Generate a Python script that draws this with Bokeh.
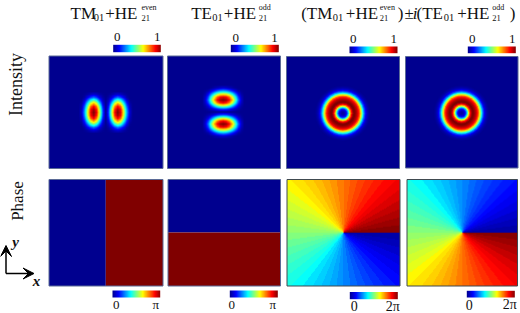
import numpy as np
from bokeh.plotting import figure
from bokeh.models import LinearColorMapper, Arrow, VeeHead
from bokeh.core.properties import value
from bokeh.embed import file_html
from bokeh.resources import INLINE

# --- values ---
row_labels = ["Intensity", "Phase"]
intensity_ticks = ["0", "1"]
phase_ticks_pi = ["0", "π"]
phase_ticks_2pi = ["0", "2π"]

# one quadrant of a two-lobe mode (3 px cells, from the beam centre outwards)
lobe_quadrant = [
    [0, .20, .55, .88, 1.0, .90, .60, .30, .08, 0],
    [0, .19, .52, .84, .97, .87, .58, .28, .07, 0],
    [0, .15, .45, .74, .88, .77, .50, .23, .05, 0],
    [0, .10, .33, .58, .70, .60, .38, .16, .03, 0],
    [0, .06, .20, .38, .48, .40, .24, .09, .01, 0],
    [0, .03, .09, .18, .24, .19, .11, .03, 0, 0],
    [0, .01, .03, .06, .08, .06, .03, .01, 0, 0],
    [0, 0, 0, 0, 0, 0, 0, 0, 0, 0],
]
# ring intensity for radius 0, 1, 2, ... px
ring_profile = [.02, .03, .05, .09, .15, .27, .42, .60, .76, .88, .96, 1.0, 1.0, .98,
                .95, .91, .86, .78, .66, .53, .40, .28, .19, .12, .07, .04, .02, .01, 0]
# step phases of the two-valued panels (fraction of the colour bar)
step_phase_left_top = 0.0
step_phase_right_bottom = 1.0
# phase of the vortex sectors, counter-clockwise from +x (fraction of the colour bar)
vortex_levels = [.99, .97, .95, .93, .91, .89, .87, .85, .83, .81, .79, .77, .75, .73, .71, .69,
                 .67, .65, .63, .60, .58, .56, .54, .52, .50, .48, .46, .44, .42, .40, .38, .35,
                 .33, .31, .29, .27, .25, .23, .21, .19, .17, .15, .13, .11, .09, .07, .05, .03]

# --- colours ---
stops = [0, .125, .375, .625, .875, 1]
stop_rgb = [(0, 0, 143), (0, 0, 255), (0, 255, 255), (255, 255, 0), (255, 0, 0), (128, 0, 0)]
t = np.linspace(0, 1, 256)
jet = ["#%02x%02x%02x" % tuple(int(round(np.interp(v, stops, [c[i] for c in stop_rgb]))) for i in range(3)) for v in t]
mapper = LinearColorMapper(palette=jet, low=0, high=1)
NAVY = jet[0]

W, H = 520, 313
p = figure(width=W, height=H, x_range=(0, W), y_range=(0, H), toolbar_location=None,
           output_backend="svg", min_border=0)
p.axis.visible = False
p.grid.visible = False
p.outline_line_color = None
p.background_fill_color = "white"
p.border_fill_color = "white"


def Y(py):
    return H - py


def box(x0, x1, y0, y1, color, line=None, width=1):
    p.quad(left=[x0], right=[x1], top=[Y(y0)], bottom=[Y(y1)], fill_color=color,
           line_color=line, line_width=width)


def img(arr, x0, x1, y0, y1):
    p.image(image=[arr], x=x0, y=Y(y1), dw=x1 - x0, dh=y1 - y0, color_mapper=mapper)


def labels(xs, ys, texts, size, style="normal", align="left"):
    # ys are baselines; the text is anchored on its middle
    p.text(x=xs, y=[Y(v - 0.31 * size) for v in ys], text=texts, text_font=value("Liberation Serif"),
           text_font_size=value(f"{size}px"), text_font_style=value(style), text_align=align,
           text_baseline="middle", text_color="#111111")


def resample(arr, factor):
    """Raster display of a coarse grid at a finer pixel size."""
    ny, nx = arr.shape
    fx = np.linspace(0, nx - 1, (nx - 1) * factor + 1)
    fy = np.linspace(0, ny - 1, (ny - 1) * factor + 1)
    tmp = np.array([np.interp(fx, np.arange(nx), row) for row in arr])
    return np.array([np.interp(fy, np.arange(ny), col) for col in tmp.T]).T


# intensity panels
BORDER = "#5b6b96"
int_panels = [(48.5, 162.5, 55.5, 168), (167, 280, 55.5, 168), (286, 399, 56, 168), (405, 517.5, 56, 167.5)]
for x0, x1, y0, y1 in int_panels:
    box(x0, x1, y0, y1, NAVY, BORDER)

q = np.array(lobe_quadrant)
full_h = np.hstack([q[:, :0:-1], q])          # mirror across the beam centre
lobes = resample(np.vstack([full_h[:0:-1], full_h]), 3)
h, w = lobes.shape
cx, cy = 105.3, 112.0
img(lobes, cx - w / 2, cx + w / 2, cy - h / 2, cy + h / 2)
lobes_t = lobes.T
cx, cy = 222.7, 111.5
h, w = lobes_t.shape
img(lobes_t, cx - w / 2, cx + w / 2, cy - h / 2, cy + h / 2)

# rings: concentric discs, one per read radius, largest first
for cx, cy in [(342.3, 112.7), (461.0, 112.5)]:
    r = np.arange(len(ring_profile))[::-1] + 0.5
    vals = np.array(ring_profile)[::-1]
    cols = [jet[int(v * 255)] for v in vals]
    p.circle(x=[cx] * len(r), y=[Y(cy)] * len(r), radius=r, fill_color=cols, line_color=None)

# phase panels
PY0, PY1 = 179.0, 285.5
box(48.5, 105.3, PY0, PY1, jet[int(step_phase_left_top * 255)])
box(105.3, 162.5, PY0, PY1, jet[int(step_phase_right_bottom * 255)])
box(48.5, 162.5, PY0, PY1, None, BORDER)
box(167.5, 280, PY0, 232, jet[int(step_phase_left_top * 255)])
box(167.5, 280, 232, PY1, jet[int(step_phase_right_bottom * 255)])
box(167.5, 280, PY0, PY1, None, BORDER)

levels = np.array(vortex_levels)
for (x0, x1), lv in zip([(286.5, 399.5), (406.5, 517.0)], [levels, levels[::-1]]):
    xs = np.arange(int(x1 - x0)) + .5 - (x1 - x0) / 2
    ys = np.arange(int(PY1 - PY0)) + .5 - (PY1 - PY0) / 2
    gx, gy = np.meshgrid(xs, ys)
    ang = np.mod(np.arctan2(gy, gx), 2 * np.pi)
    idx = np.minimum((ang / (2 * np.pi) * len(lv)).astype(int), len(lv) - 1)
    img(lv[idx], x0, x1, PY0, PY1)
    box(x0, x1, PY0, PY1, None, "#404a50")

# colour bars
bar = t[None, :]
top_bars = [(112.7, 160.3, 44.3, 51.7), (230.3, 278.3, 44.3, 51.7), (349, 397, 46, 52.7), (467.3, 515.3, 46, 52.7)]
bot_bars = [(112, 159.7, 290, 297), (229.3, 277.3, 290, 297), (349.3, 397.3, 291.5, 298.7), (466.3, 514.3, 290.3, 297)]
for x0, x1, y0, y1 in top_bars + bot_bars:
    img(bar, x0, x1, y0, y1)

labels([116.7, 156.7, 235.3, 274, 352.7, 393.3, 471.7, 511.7],
       [41, 41, 42, 42, 43, 43, 43, 43], intensity_ticks * 4, 13, align="center")
labels([115.7, 155.3, 231.3, 272.3], [308.5] * 4, phase_ticks_pi * 2, 13, align="center")
labels([353.7, 392.3], [310, 310], phase_ticks_2pi, 14, align="center")
labels([468.7, 509.3], [308.5, 308.5], phase_ticks_2pi, 14, align="center")

# titles, built from their parts
labels([70, 104.7, 190.7, 223.3, 300.7, 345.3, 397.3, 404, 416, 456.7, 509.3],
       [18] * 11, ["TM", "+HE", "TE", "+HE", "(TM", "+HE", ")", "±", "(TE", "+HE", ")"], 17)
labels([412.2], [18], ["i"], 17, style="italic")
labels([93.3, 211.7, 332.3, 443.3], [20] * 4, ["01"] * 4, 10.5)
labels([141, 258.3, 379.3, 491.7], [20] * 4, ["21"] * 4, 8.5)
labels([141, 258.3, 379.3, 491.7], [9.5] * 4, ["even", "odd", "even", "odd"], 8)

# row labels
p.text(x=[15.4, 17.4], y=[Y(84), Y(200.5)], text=row_labels, angle=np.pi / 2, text_align="center",
       text_baseline="middle", text_font=value("Liberation Serif"),
       text_font_size=["18px", "17px"], text_color="#111111")

# axis arrows
head = dict(size=11, fill_color="black", line_color="black", line_width=1)
p.add_layout(Arrow(end=VeeHead(**head), x_start=5.5, y_start=Y(273), x_end=5.5, y_end=Y(245), line_width=1.5))
p.add_layout(Arrow(end=VeeHead(**head), x_start=5.5, y_start=Y(273), x_end=33.5, y_end=Y(273), line_width=1.5))
labels([15], [246], ["y"], 15, style="bold italic", align="center")
labels([36], [285], ["x"], 15, style="bold italic", align="center")

open("out.html", "w").write(file_html(p, INLINE))
